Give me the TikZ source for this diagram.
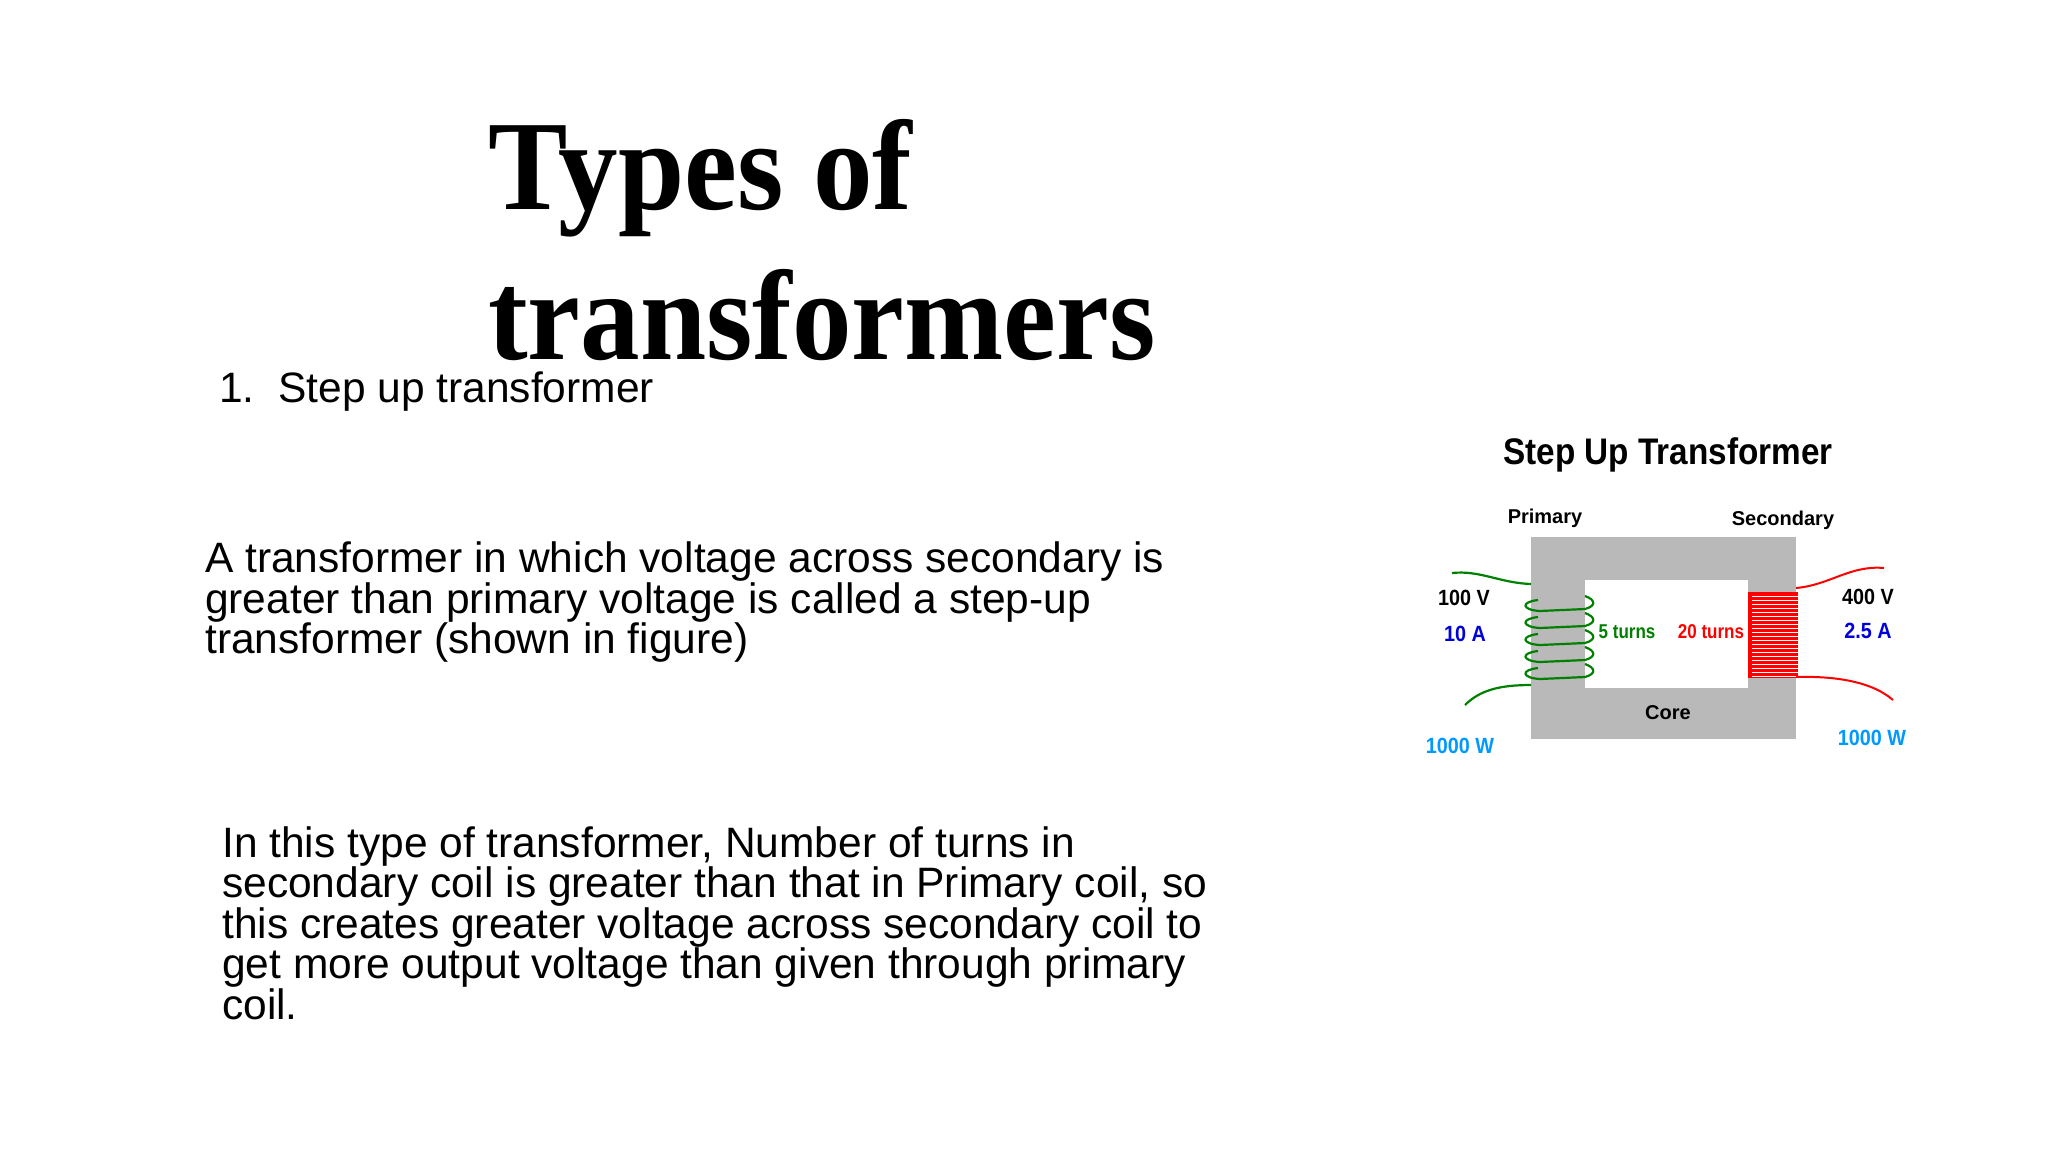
\documentclass[tikz,border=0pt]{standalone}
\usepackage{fontspec}
\setmainfont{Liberation Sans}
\newfontfamily\serifb{Liberation Serif}
\begin{document}
\begin{tikzpicture}[x=1pt,y=-1pt,
  body/.style={anchor=base west,inner sep=0pt,font=\fontsize{42.5}{42.5}\selectfont},
  lbl/.style={inner sep=0pt,font=\fontsize{20}{20}\selectfont\bfseries},
  gw/.style={draw=green!50!black,line width=2.2pt},
  rw/.style={draw=red,line width=2pt}]
\useasboundingbox (0,0) rectangle (2048,1152);
\node[anchor=base west,inner sep=0pt,xscale=0.93,font=\serifb\bfseries\fontsize{128}{128}\selectfont] (t1) at (488,209) {Types of};
\node[anchor=base west,inner sep=0pt,xscale=0.93,font=\serifb\bfseries\fontsize{128}{128}\selectfont] (t2) at (488,359) {transformers};
\node[body] (i1) at (219,402) {1.\ \ Step up transformer};
\node[body] (a1) at (205,572) {A transformer in which voltage across secondary is};
\node[body] (a2) at (205,613) {greater than primary voltage is called a step-up};
\node[body] (a3) at (205,653) {transformer (shown in figure)};
\node[body] (b1) at (222,857) {In this type of transformer, Number of turns in};
\node[body] (b2) at (222,897) {secondary coil is greater than that in Primary coil, so};
\node[body] (b3) at (222,938) {this creates greater voltage across secondary coil to};
\node[body] (b4) at (222,978) {get more output voltage than given through primary};
\node[body] (b5) at (222,1019) {coil.};
% figure
\node[inner sep=0pt,xscale=0.9,font=\fontsize{37}{37}\selectfont\bfseries] (ft) at (1668,455) {Step Up Transformer};
\fill[gray!55] (1531,537) rectangle (1796,739);
\fill[white] (1585,580) rectangle (1748,688);
\node[lbl] (pr) at (1545,518) {Primary};
\node[lbl] (se) at (1783,520) {Secondary};
\node[lbl] (co) at (1668,713) {Core};
% primary leads and coil
\draw[gw] (1452,573) .. controls (1480,570) and (1500,583) .. (1531,584);
\draw[gw] (1465,705) .. controls (1480,690) and (1500,685) .. (1531,685);
\foreach \y in {600,617,634,651,668}{
  \draw[gw] (1538,\y) .. controls (1520,\y+2) and (1522,\y+10) .. (1540,\y+11) -- (1585,\y+9) .. controls (1596,\y+6) and (1596,\y) .. (1585,\y-4);
}
% secondary coil
\fill[red] (1748,592) rectangle (1798,678);
\foreach \y in {596,600,...,676}{\draw[white,line width=0.8pt] (1752,\y) -- (1798,\y);}
\draw[rw] (1796,588) .. controls (1830,585) and (1850,565) .. (1884,568);
\draw[rw] (1796,677) .. controls (1830,676) and (1870,680) .. (1893,700);
\node[lbl,xscale=0.85,text=green!50!black] (n5) at (1627,632) {5 turns};
\node[lbl,xscale=0.85,text=red] (n20) at (1711,632) {20 turns};
\node[lbl,xscale=0.9,font=\fontsize{22}{22}\selectfont\bfseries] (v1) at (1464,598) {100 V};
\node[lbl,xscale=0.9,font=\fontsize{22}{22}\selectfont\bfseries,text=blue!85!black] (c1) at (1465,634) {10 A};
\node[lbl,xscale=0.9,font=\fontsize{22}{22}\selectfont\bfseries,text=blue!40!cyan] (w1) at (1460,746) {1000 W};
\node[lbl,xscale=0.9,font=\fontsize{22}{22}\selectfont\bfseries] (v2) at (1868,597) {400 V};
\node[lbl,xscale=0.9,font=\fontsize{22}{22}\selectfont\bfseries,text=blue!85!black] (c2) at (1868,631) {2.5 A};
\node[lbl,xscale=0.9,font=\fontsize{22}{22}\selectfont\bfseries,text=blue!40!cyan] (w2) at (1872,738) {1000 W};
\end{tikzpicture}
\end{document}
